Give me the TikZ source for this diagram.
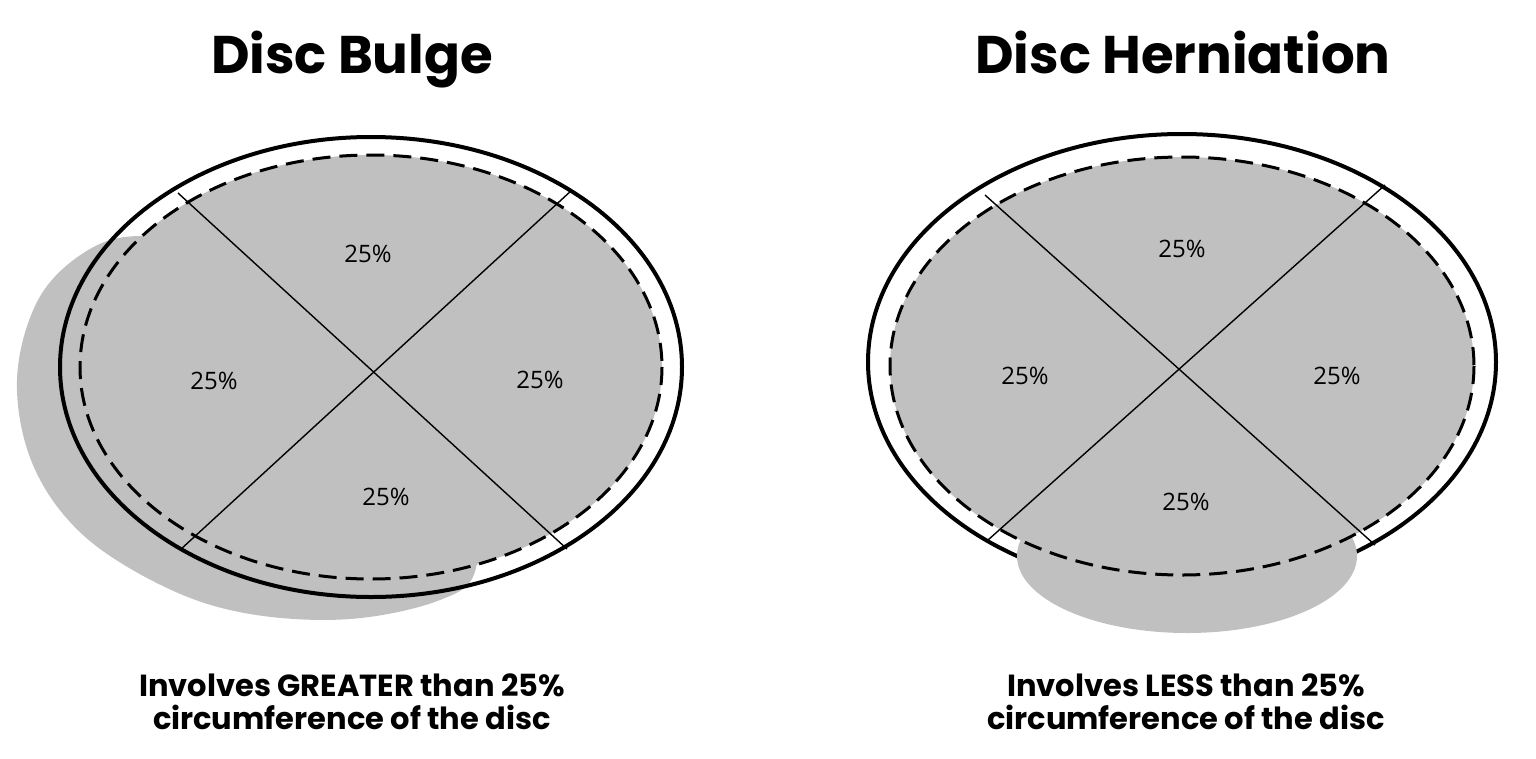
\documentclass[tikz,border=0pt]{standalone}
\usepackage{fontspec}
\setmainfont{Poppins}[Ligatures=NoCommon]
\newfontfamily\pctfont{Open Sans}
\usepackage{tikz}

\definecolor{discgray}{RGB}{192,192,192}

\begin{document}
\begin{tikzpicture}[x=1pt,y=-1pt,
    outerring/.style={line width=4pt},
    dashring/.style={line width=3pt, dash pattern=on 18pt off 9pt},
    crossline/.style={line width=1.4pt},
    pct/.style={font=\pctfont\fontsize{24}{26}\selectfont},
    heading/.style={font=\fontseries{sb}\selectfont\fontsize{53}{60}\selectfont, anchor=base},
    caption/.style={font=\fontseries{sb}\selectfont\fontsize{30.5}{33}\selectfont, align=center, anchor=base}]
    \useasboundingbox (0,0) rectangle (1536,758);

    % ---- Disc Bulge ----
    % Bulge, pushed out down and left
    \fill[discgray] plot[smooth cycle, tension=0.6] coordinates {
        (17,380) (38,300) (85,252) (140,236) (230,250) (380,360)
        (470,480) (476,568) (440,600) (350,619) (250,614)
        (167,588) (83,535) (33,465)};

    % Outer ring
    \draw[outerring] (371,367) ellipse (311 and 230);

    % Nucleus with dashed border
    \fill[discgray] (371,367) ellipse (291 and 212);
    \draw[dashring] (371,367) ellipse (291 and 212);

    % Quarter lines
    \coordinate (bTL) at (178,193);
    \coordinate (bBR) at (567,549);
    \coordinate (bTR) at (572,190);
    \coordinate (bBL) at (180,550);
    \draw[crossline] (bTL) -- (bBR);
    \draw[crossline] (bTR) -- (bBL);

    % Quarter labels
    \node[pct] (bTop) at (368,254) {25\%};
    \node[pct] (bLeft) at (214,381) {25\%};
    \node[pct] (bRight) at (540,380) {25\%};
    \node[pct] (bBottom) at (386,497) {25\%};

    \node[heading] (bTitle) at (352,73) {Disc Bulge};
    \node[caption] (bText) at (352,729) {Involves GREATER than 25\%\\circumference of the disc};

    % ---- Disc Herniation ----
    % Outer ring
    \draw[outerring] (1182,362) ellipse (314 and 228);

    % Herniation, covers the ring at the bottom
    \fill[discgray] (1187,556) ellipse (170 and 77);

    % Nucleus with dashed border
    \fill[discgray] (1182,366) ellipse (292 and 209);
    \draw[dashring] (1182,366) ellipse (292 and 209);

    % Quarter lines
    \coordinate (hTL) at (985,195);
    \coordinate (hBR) at (1375,545);
    \coordinate (hTR) at (1385,185);
    \coordinate (hBL) at (988,540);
    \draw[crossline] (hTL) -- (hBR);
    \draw[crossline] (hTR) -- (hBL);

    % Quarter labels
    \node[pct] (hTop) at (1182,249) {25\%};
    \node[pct] (hLeft) at (1025,376) {25\%};
    \node[pct] (hRight) at (1337,376) {25\%};
    \node[pct] (hBottom) at (1186,502) {25\%};

    \node[heading] (hTitle) at (1183,73) {Disc Herniation};
    \node[caption] (hText) at (1186,729) {Involves LESS than 25\%\\circumference of the disc};
\end{tikzpicture}
\end{document}
